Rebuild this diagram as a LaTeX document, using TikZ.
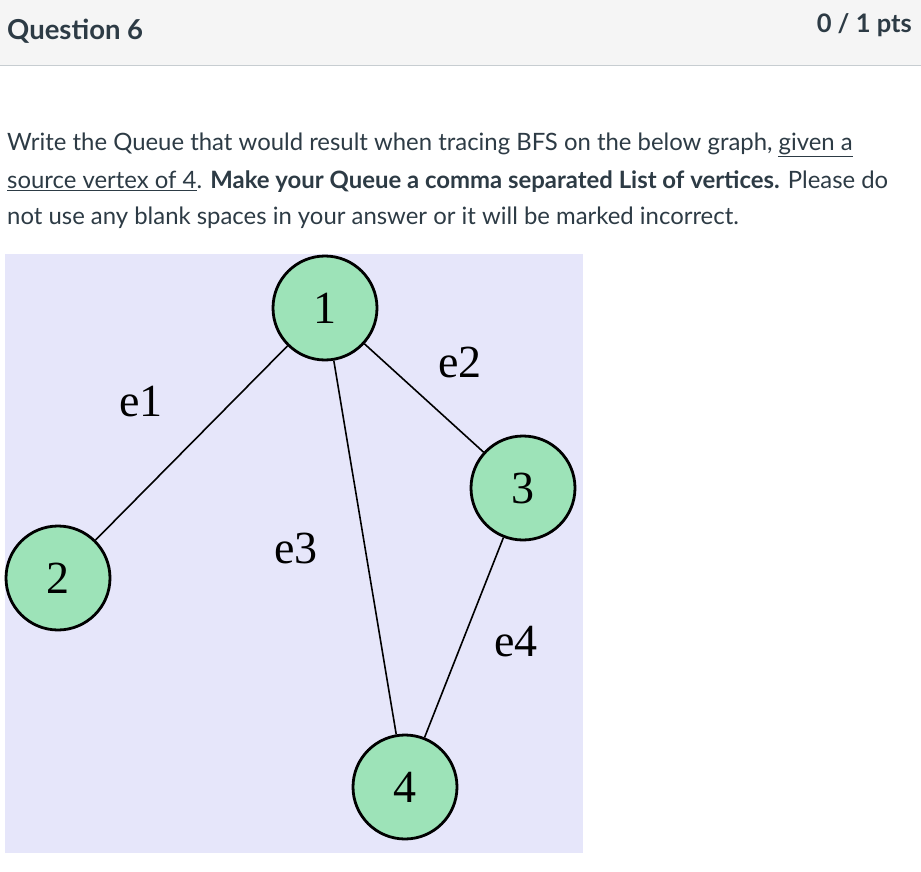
\documentclass[tikz,border=0pt]{standalone}
\usepackage{fontspec}
\setmainfont{Lato}
\newfontfamily\serifg{Liberation Serif}
\definecolor{hdr}{HTML}{F5F5F5}
\definecolor{hline}{HTML}{C7CDD1}
\definecolor{txt}{HTML}{2D3B45}
\definecolor{bg}{HTML}{E6E6FA}
\definecolor{nfill}{HTML}{9DE3B8}
\tikzset{
  vtx/.style={circle,draw=black,line width=2.8pt,fill=nfill,minimum size=104pt,inner sep=0pt,font=\serifg\fontsize{46}{46}\selectfont},
  elab/.style={font=\serifg\fontsize{46}{46}\selectfont},
  edge/.style={line width=1.6pt,black},
  para/.style={anchor=west,inner sep=0pt,text=txt,font=\fontsize{23.9}{28}\selectfont}
}
\begin{document}
\begin{tikzpicture}[x=1pt,y=-1pt]
\useasboundingbox (0,0) rectangle (921,872);
\fill[white] (0,0) rectangle (921,872);
\fill[hdr] (0,0) rectangle (921,66);
\draw[hline,line width=1pt] (0,66) -- (921,66);
\node[para,font=\bfseries\fontsize{27.5}{30}\selectfont] (q) at (7,31) {Question 6};
\node[para,anchor=east,font=\bfseries\fontsize{25.5}{30}\selectfont] (p) at (912,25) {0 / 1 pts};
\node[para] (l1) at (7,145) {Write the Queue that would result when tracing BFS on the below graph, \underline{given a}};
\node[para] (l2) at (7,182) {\underline{source vertex of 4}. \textbf{Make your Queue a comma separated List of vertices.} Please do};
\node[para] (l3) at (7,218) {not use any blank spaces in your answer or it will be marked incorrect.};
\fill[bg] (5,254) rectangle (583,853);
\node[vtx] (n1) at (325,308) {1};
\node[vtx] (n3) at (523,488) {3};
\node[vtx] (n2) at (58,578) {2};
\node[vtx] (n4) at (405,787) {4};
\draw[edge] (n1) -- (n2);
\draw[edge] (n1) -- (n3);
\draw[edge] (n1) -- (n4);
\draw[edge] (n3) -- (n4);
\node[elab] (e1) at (141,402) {e1};
\node[elab] (e2) at (460,362) {e2};
\node[elab] (e3) at (296,548) {e3};
\node[elab] (e4) at (516,642) {e4};
\end{tikzpicture}
\end{document}
